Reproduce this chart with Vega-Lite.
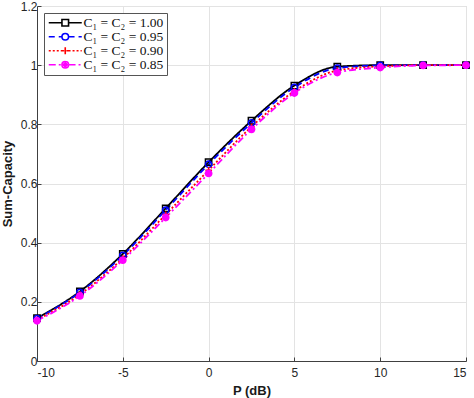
{
  "$schema": "https://vega.github.io/schema/vega-lite/v6.json",
  "width": 429,
  "height": 355,
  "autosize": {"type": "none"},
  "padding": {"left": 37, "top": 6, "right": 8, "bottom": 37},
  "background": "white",
  "config": {
    "view": {"stroke": "#cfcfcf", "strokeWidth": 1},
    "axis": {
      "labelFont": "Liberation Sans", "labelFontSize": 12, "labelColor": "#262626",
      "titleFont": "Liberation Sans", "titleFontSize": 13, "titleFontWeight": "bold", "titleColor": "#1a1a1a",
      "domainColor": "#404040", "tickColor": "#404040", "tickSize": -4,
      "gridColor": "#e3e3e3", "gridWidth": 1
    }
  },
  "data": {"values": [
    {"P": -10, "C": "1.00", "y": 0.145}, {"P": -7.5, "C": "1.00", "y": 0.235}, {"P": -5, "C": "1.00", "y": 0.362}, {"P": -2.5, "C": "1.00", "y": 0.516}, {"P": 0, "C": "1.00", "y": 0.672}, {"P": 2.5, "C": "1.00", "y": 0.812}, {"P": 5, "C": "1.00", "y": 0.931}, {"P": 7.5, "C": "1.00", "y": 0.995}, {"P": 10, "C": "1.00", "y": 1.0}, {"P": 12.5, "C": "1.00", "y": 1.0}, {"P": 15, "C": "1.00", "y": 1.0},
    {"P": -10, "C": "0.95", "y": 0.143}, {"P": -7.5, "C": "0.95", "y": 0.232}, {"P": -5, "C": "0.95", "y": 0.357}, {"P": -2.5, "C": "0.95", "y": 0.51}, {"P": 0, "C": "0.95", "y": 0.665}, {"P": 2.5, "C": "0.95", "y": 0.805}, {"P": 5, "C": "0.95", "y": 0.925}, {"P": 7.5, "C": "0.95", "y": 0.99}, {"P": 10, "C": "0.95", "y": 0.999}, {"P": 12.5, "C": "0.95", "y": 1.0}, {"P": 15, "C": "0.95", "y": 1.0},
    {"P": -10, "C": "0.90", "y": 0.139}, {"P": -7.5, "C": "0.90", "y": 0.225}, {"P": -5, "C": "0.90", "y": 0.347}, {"P": -2.5, "C": "0.90", "y": 0.495}, {"P": 0, "C": "0.90", "y": 0.645}, {"P": 2.5, "C": "0.90", "y": 0.792}, {"P": 5, "C": "0.90", "y": 0.912}, {"P": 7.5, "C": "0.90", "y": 0.982}, {"P": 10, "C": "0.90", "y": 0.996}, {"P": 12.5, "C": "0.90", "y": 1.0}, {"P": 15, "C": "0.90", "y": 1.0},
    {"P": -10, "C": "0.85", "y": 0.136}, {"P": -7.5, "C": "0.85", "y": 0.22}, {"P": -5, "C": "0.85", "y": 0.341}, {"P": -2.5, "C": "0.85", "y": 0.485}, {"P": 0, "C": "0.85", "y": 0.634}, {"P": 2.5, "C": "0.85", "y": 0.783}, {"P": 5, "C": "0.85", "y": 0.906}, {"P": 7.5, "C": "0.85", "y": 0.975}, {"P": 10, "C": "0.85", "y": 0.992}, {"P": 12.5, "C": "0.85", "y": 0.999}, {"P": 15, "C": "0.85", "y": 1.0}
  ]},
  "encoding": {
    "x": {"field": "P", "type": "quantitative", "title": "P (dB)",
      "scale": {"domain": [-10, 15], "nice": false},
      "axis": {"values": [-10, -5, 0, 5, 10, 15], "labelExpr": "'' + datum.value", "labelPadding": 10, "titlePadding": 6}},
    "y": {"field": "y", "type": "quantitative", "title": "Sum-Capacity",
      "scale": {"domain": [0, 1.2], "nice": false},
      "axis": {"values": [0, 0.2, 0.4, 0.6, 0.8, 1, 1.2], "format": "~g", "labelPadding": 4, "titlePadding": 6}}
  },
  "layer": [
    {
      "mark": {"type": "line", "interpolate": "monotone", "strokeWidth": 1.8},
      "encoding": {
        "stroke": {"field": "C", "type": "nominal",
          "scale": {"domain": ["1.00", "0.95", "0.90", "0.85"], "range": ["#000000", "#0000ff", "#ff0000", "#ff00ff"]},
          "legend": {
            "title": null, "orient": "top-left", "offset": 7,
            "strokeColor": "#555555", "fillColor": "white", "padding": 3, "rowPadding": -1.5,
            "symbolSize": 100, "symbolStrokeWidth": 1.6,
            "labelFont": "Liberation Serif", "labelFontSize": 13.5, "labelColor": "#111111", "labelOffset": 23,
            "labelExpr": "'C₁ = C₂ = ' + datum.label",
            "encode": {"symbols": {"update": {
              "shape": {"signal": "datum.value == '1.00' ? 'M-1,0H1.64M2.96,0H5.6M1.64,-0.66H2.96V0.66H1.64Z' : datum.value == '0.90' ? 'M-1,0H1.64M1.64,0H2.04M2.1,0H2.5M2.56,0H2.96M2.96,0H5.6M2.3,-0.72V-0.36M2.3,-0.36V0M2.3,0V0.36M2.3,0.36V0.72' : datum.value == '0.95' ? 'M-1,0H1.64M2.96,0H5.6M1.64,0A0.66,0.66 0 0,1 2.3,-0.66M2.3,-0.66A0.66,0.66 0 0,1 2.96,0M2.96,0A0.66,0.66 0 0,1 2.3,0.66M2.3,0.66A0.66,0.66 0 0,1 1.64,0' : 'M-1,0H1.64M2.96,0H5.6M1.64,0A0.66,0.66 0 1,0 2.96,0A0.66,0.66 0 1,0 1.64,0ZM1.64,0A0.66,0.66 0 0,1 2.3,-0.66M2.3,-0.66A0.66,0.66 0 0,1 2.96,0M2.96,0A0.66,0.66 0 0,1 2.3,0.66M2.3,0.66A0.66,0.66 0 0,1 1.64,0'"},
              "fill": {"signal": "datum.value == '0.85' ? '#ff00ff' : 'transparent'"},
              "strokeDash": {"signal": "datum.value == '1.00' ? [1,0] : datum.value == '0.95' ? [6,4] : datum.value == '0.90' ? [2,2] : [7,3,2,3]"}
            }}}
          }},
        "strokeDash": {"field": "C", "type": "nominal", "sort": "descending",
          "scale": {"range": [[1, 0], [6, 4], [2, 2], [7, 3, 2, 3]]},
          "legend": null}
      }
    },
    {
      "mark": {"type": "point", "size": 40, "strokeWidth": 1.5, "opacity": 1},
      "encoding": {
        "stroke": {"field": "C", "type": "nominal", "legend": null},
        "shape": {"field": "C", "type": "nominal", "sort": "descending",
          "scale": {"range": ["square", "circle", "M-1,0H1M0,-1V1", "circle"]},
          "legend": null},
        "fill": {"field": "C", "type": "nominal", "sort": "descending",
          "scale": {"range": ["transparent", "transparent", "transparent", "#ff00ff"]},
          "legend": null}
      }
    }
  ]
}
